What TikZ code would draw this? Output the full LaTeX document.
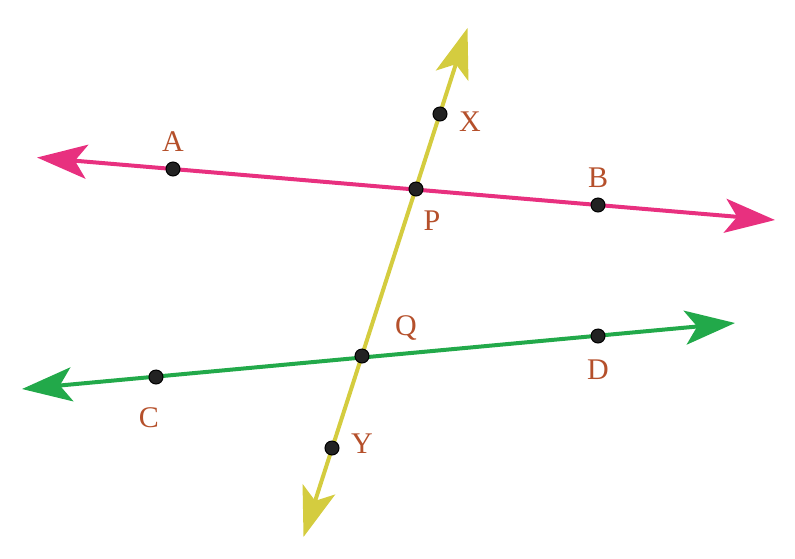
\documentclass[tikz,border=0pt]{standalone}
\usepackage{fontspec}
\setmainfont{Liberation Serif}
\usetikzlibrary{arrows.meta}
\definecolor{pinkl}{HTML}{E8307F}
\definecolor{greenl}{HTML}{22A94A}
\definecolor{yellowl}{HTML}{D4CC3F}
\definecolor{labc}{HTML}{B5502B}
\definecolor{dotc}{HTML}{222222}
\tikzset{
  ln/.style={line width=4pt, {Stealth[length=50pt,width=34pt,inset=12pt]}-{Stealth[length=50pt,width=34pt,inset=12pt]}},
  dot/.style={circle, fill=dotc, draw=black, line width=1pt, minimum size=14pt, inner sep=0pt},
  lab/.style={text=labc, font=\fontsize{30}{30}\selectfont, inner sep=0pt}
}
\begin{document}
\begin{tikzpicture}[x=1pt,y=-1pt]
\useasboundingbox (0,0) rectangle (795,558);
% line end coordinates
\coordinate (pL) at (37,157.5);
\coordinate (pR) at (775,220);
\coordinate (gL) at (22,389);
\coordinate (gR) at (735,323);
\coordinate (yT) at (467.5,28);
\coordinate (yB) at (303.5,537);
\draw[ln, pinkl] (pL) -- (pR);
\draw[ln, greenl] (gL) -- (gR);
\draw[ln, yellowl] (yB) -- (yT);
% points
\node[dot] (A) at (173,169) {};
\node[dot] (P) at (416,189) {};
\node[dot] (B) at (598,205) {};
\node[dot] (X) at (440,114) {};
\node[dot] (C) at (156,377) {};
\node[dot] (Q) at (362,356) {};
\node[dot] (D) at (598,336) {};
\node[dot] (Y) at (332,448) {};
% labels
\node[lab] (lA) at (173,142) {A};
\node[lab] (lB) at (598,178) {B};
\node[lab] (lP) at (432,221) {P};
\node[lab] (lX) at (470,122) {X};
\node[lab] (lQ) at (406,328) {Q};
\node[lab] (lD) at (598,370) {D};
\node[lab] (lC) at (149,418) {C};
\node[lab] (lY) at (362,444) {Y};
\end{tikzpicture}
\end{document}
